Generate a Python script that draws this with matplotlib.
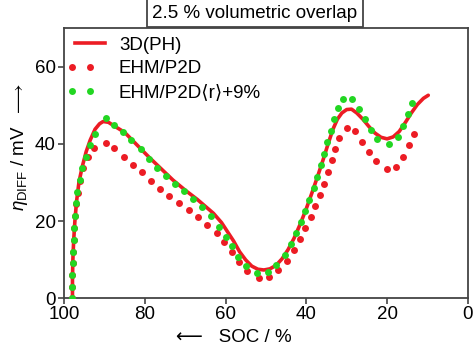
import matplotlib
matplotlib.use("Agg")
import matplotlib.pyplot as plt
from matplotlib.lines import Line2D
from matplotlib.legend_handler import HandlerLine2D

plt.rcParams['font.family'] = ['Liberation Sans', 'DejaVu Sans']
plt.rcParams['mathtext.fontset'] = 'custom'
plt.rcParams['mathtext.rm'] = 'Liberation Sans'
plt.rcParams['mathtext.it'] = 'Liberation Sans:italic'
plt.rcParams['mathtext.fallback'] = 'stix'

# 3D(PH) simulation (solid line)
soc_3d = [97.9, 97.9, 97.8, 97.6, 97.3, 96.9, 96.3, 95.5, 94.5, 93.5, 92.3, 91.2, 90.3,
          89.0, 87.5, 85.0, 82.0, 79.0, 76.0, 73.0, 70.0, 67.0, 65.0, 63.0, 61.0, 59.5,
          58.0, 56.5, 55.0, 53.5, 52.0, 50.5, 49.0, 47.5, 46.0, 44.5, 43.0, 41.5, 40.0,
          38.5, 37.0, 35.8, 34.6, 33.4, 32.3, 31.2, 30.0, 28.8, 27.5, 26.0, 24.5, 23.0,
          21.5, 20.0, 18.5, 17.0, 15.5, 14.0, 12.5, 11.0, 9.8]
eta_3d = [0.0, 5.0, 10.0, 15.0, 20.0, 25.0, 30.0, 34.0, 38.0, 41.0, 43.8, 45.2, 45.8,
          45.6, 44.6, 43.0, 39.8, 36.6, 33.6, 30.6, 28.0, 25.6, 23.8, 22.0, 19.6, 17.2,
          14.8, 12.0, 9.9, 8.3, 7.5, 7.3, 7.6, 8.5, 10.2, 12.6, 15.6, 19.2, 23.2,
          27.6, 32.2, 36.0, 40.0, 43.8, 46.4, 48.0, 48.9, 49.0, 48.0, 46.4, 44.5, 42.8,
          41.7, 41.3, 41.8, 43.2, 45.5, 48.0, 50.2, 51.8, 52.6]

# EHM/P2D (red dots)
soc_ehm = [97.9, 97.9, 97.9, 97.8, 97.7, 97.6, 97.5, 97.3, 97.0, 96.6, 96.1, 95.2, 94.0,
           92.6, 89.7, 87.5, 85.2, 82.9, 80.8, 78.5, 76.2, 74.0, 71.5, 69.1, 66.8, 64.5,
           62.2, 60.5, 58.5, 56.7, 54.8, 51.8, 49.2, 46.9, 44.7, 43.0, 41.5, 40.3, 38.9,
           37.8, 36.7, 35.6, 34.7, 33.7, 32.9, 31.9, 30.0, 27.9, 26.1, 24.5, 22.8, 20.0,
           17.9, 16.0, 14.6, 13.4]
eta_ehm = [0.0, 2.8, 6.0, 9.0, 12.0, 15.0, 18.3, 21.4, 24.4, 27.3, 30.5, 33.7, 36.5,
           39.0, 40.3, 38.8, 36.5, 34.5, 32.6, 30.4, 28.4, 26.4, 24.6, 22.9, 21.0, 19.0,
           17.0, 14.5, 12.0, 9.4, 7.1, 5.1, 5.5, 7.3, 9.7, 12.5, 15.3, 18.1, 21.1,
           23.9, 26.8, 29.7, 32.6, 35.7, 38.6, 41.5, 44.1, 43.4, 40.6, 38.0, 35.6, 33.4,
           34.1, 36.7, 39.6, 42.6]

# EHM/P2D<r>+9% (green dots)
soc_r9 = [97.9, 97.9, 97.9, 97.8, 97.7, 97.6, 97.5, 97.3, 97.0, 96.7, 96.1, 95.5, 94.6,
          93.6, 92.3, 89.6, 87.5, 85.3, 83.3, 81.0, 79.0, 76.9, 74.8, 72.5, 70.3, 68.0,
          65.8, 63.6, 61.6, 60.0, 58.5, 56.9, 55.0, 52.1, 49.4, 47.4, 45.3, 43.8, 42.6,
          41.4, 40.3, 39.3, 38.2, 37.3, 36.4, 35.6, 34.9, 34.0, 33.2, 32.1, 30.9, 28.7,
          26.9, 25.5, 24.0, 22.4, 19.6, 17.4, 16.0, 14.8, 13.8]
eta_r9 = [0.0, 2.8, 6.0, 9.0, 12.0, 15.0, 18.3, 21.4, 24.6, 27.6, 30.6, 33.7, 36.7,
          39.7, 42.6, 46.7, 45.0, 43.0, 40.9, 38.6, 36.2, 33.8, 31.7, 29.6, 27.8, 25.7,
          23.6, 21.2, 18.5, 15.9, 13.4, 10.7, 8.4, 6.4, 6.8, 8.7, 11.2, 14.0, 16.8,
          19.7, 22.7, 25.5, 28.5, 31.3, 34.4, 37.3, 40.4, 43.4, 46.4, 49.3, 51.6, 51.6,
          49.0, 46.4, 43.6, 41.3, 39.9, 41.9, 44.7, 47.7, 50.6]

red = '#ec1c24'
green = '#22d622'
spine = '#444444'
fs = 13.5
ms = 5


class TwoDots(HandlerLine2D):
    # two dots at the start of the handle, like the original legend
    def get_xdata(self, legend, xdescent, ydescent, width, height, fontsize):
        x0 = -xdescent + 0.08 * width
        xs = [x0, x0 + 0.43 * width]
        return xs, xs


fig = plt.figure(figsize=(4.74, 3.52), dpi=100)
ax = fig.add_axes([0.135, 0.153, 0.852, 0.767])

ax.plot(soc_3d, eta_3d, color=red, lw=2.6, solid_capstyle='round', zorder=2)
ax.plot(soc_ehm, eta_ehm, ls='none', marker='o', ms=ms, mew=0, color=red, zorder=3)
ax.plot(soc_r9, eta_r9, ls='none', marker='o', ms=ms, mew=0, color=green, zorder=4)

ax.set_xlim(100, 0)
ax.set_ylim(0, 70)
ax.set_xticks([100, 80, 60, 40, 20, 0])
ax.set_yticks([0, 20, 40, 60])
ax.tick_params(labelsize=fs, direction='out', length=4, width=1.2, color=spine,
               pad=2, top=False, right=False)
for s in ax.spines.values():
    s.set_color(spine)
    s.set_linewidth(1.3)

ax.set_xlabel('\u27f5   SOC / %', fontsize=fs)
ax.xaxis.set_label_coords(0.42, -0.115)
ax.set_ylabel(r'$\eta_{\mathrm{DIFF}}$ / mV  $\longrightarrow$', fontsize=fs)
ax.yaxis.set_label_coords(-0.085, 0.56)

handles = [Line2D([], [], color=red, lw=2.6),
           Line2D([], [], ls='none', marker='o', ms=ms, mew=0, color=red),
           Line2D([], [], ls='none', marker='o', ms=ms, mew=0, color=green)]
labels = ['3D(PH)', 'EHM/P2D', 'EHM/P2D\u27e8r\u27e9+9%']
ax.legend(handles, labels, loc='upper left', bbox_to_anchor=(-0.008, 1.0),
          frameon=False, fontsize=fs, numpoints=2, handlelength=2.2,
          handletextpad=0.45, labelspacing=0.35, borderaxespad=0.2, borderpad=0.25,
          handler_map={handles[1]: TwoDots(), handles[2]: TwoDots()})

fig.text(0.538, 0.963, '2.5 % volumetric overlap', fontsize=fs, ha='center', va='center',
         bbox=dict(boxstyle='square,pad=0.3', fc='white', ec=spine, lw=1.3))

fig.savefig('out.png', dpi=100)
